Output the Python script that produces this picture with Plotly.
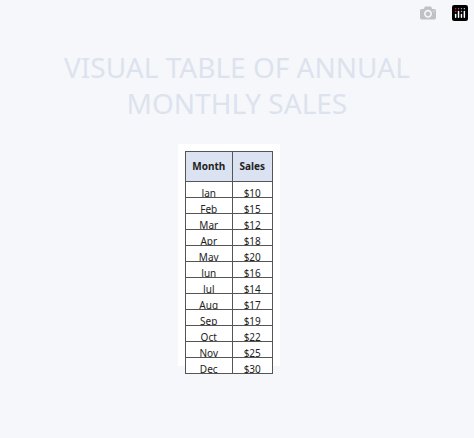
import plotly.graph_objects as go

months = ["Jan","Feb","Mar","Apr","May","Jun","Jul","Aug","Sep","Oct","Nov","Dec"]
sales = [10,15,12,18,20,16,14,17,19,22,25,30]
headers = ["Month","Sales"]

W, H = 474, 438
fig = go.Figure(go.Table(
    domain=dict(x=[185/W, 273/W], y=[0, 1-151/H]),
    columnwidth=[48, 40],
    header=dict(values=["<b>%s</b>" % h for h in headers], fill_color="#dbe2f1",
                line_color="#555555", align="center", height=16,
                font=dict(family="Noto Sans", size=10, color="#222222")),
    cells=dict(values=[months, ["$%d" % v for v in sales]], fill_color="white",
               line_color="#555555", align="center", height=16,
               font=dict(family="Noto Sans", size=10, color="#222222")),
))
fig.add_shape(type="rect", xref="paper", yref="paper", x0=178/W, x1=280/W,
              y0=1-366/H, y1=1-144/H, fillcolor="white", line_width=0, layer="below")
fig.add_annotation(text="VISUAL TABLE OF ANNUAL<br>MONTHLY SALES", xref="paper", yref="paper",
                   x=0.5, y=1-85/H, showarrow=False, yanchor="middle",
                   font=dict(family="Noto Sans", size=28, color="#dde3ee"))
fig.update_layout(width=W, height=H, margin=dict(l=0, r=0, t=0, b=0),
                  paper_bgcolor="#f6f7fb", plot_bgcolor="#f6f7fb")
fig.write_html("out.html",
               post_script="document.body.style.margin='0';document.body.style.background='#f6f7fb';")
